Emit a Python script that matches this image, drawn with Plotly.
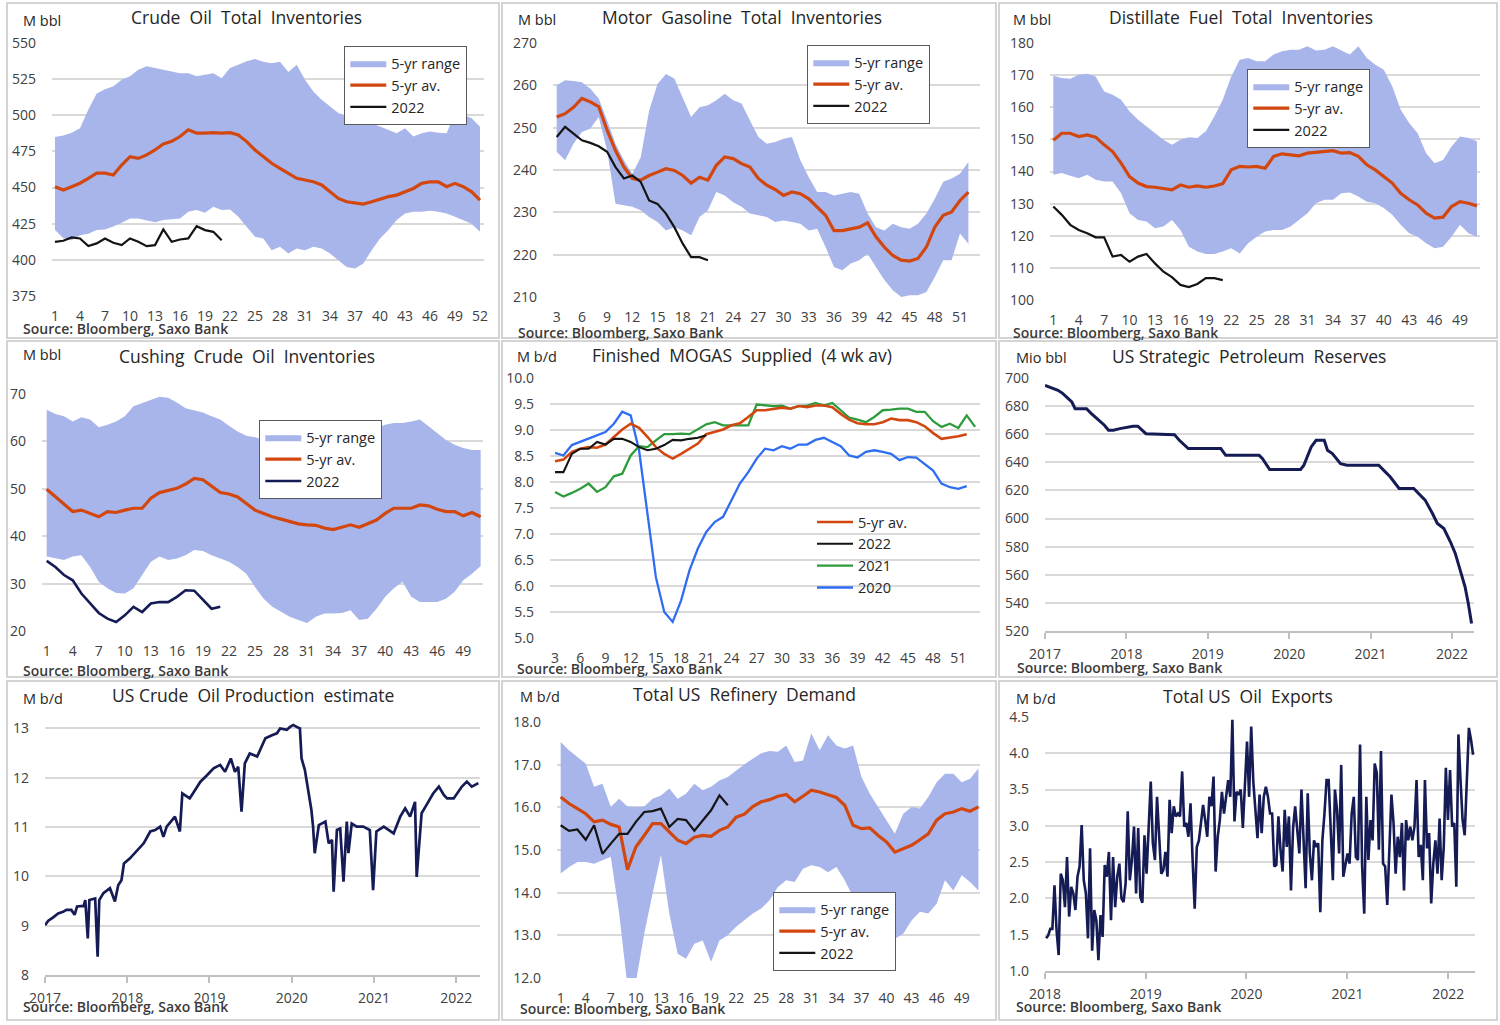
import plotly.graph_objects as go
import pandas as pd

W, H = 1500, 1025

# ---------------- DATA ----------------
# Crude oil total inventories (M bbl), weeks 1-52
crude_weeks = list(range(1, 53))
crude_hi = [485, 486, 488, 491, 503.8, 515, 518, 520, 524.6, 527, 531.5, 534, 532.7, 531.5, 530.4, 529, 529, 527, 528, 529,
            525.7, 532.7, 535, 537.3, 539, 537, 536, 537, 530, 535, 524.6, 516.5, 510.7, 506, 501.5, 499, 496.8, 495.7, 494.5, 492.2,
            490, 487.6, 491, 485.3, 487.6, 488.7, 488, 487.6, 501.5, 500.3, 498, 492]
crude_lo = [420.6, 415, 413.6, 417, 418, 420.6, 421, 423, 425.6, 428.6, 428.6, 427.5, 426, 427.5, 428, 428.6, 433.3, 434.4, 432.6, 436.7,
            434.4, 434.9, 429.8, 423, 416, 414.8, 406.7, 409, 404.4, 407.8, 406.7, 409, 407.8, 404.4, 399.7, 395.1, 394, 397.4, 406.7, 414.8,
            420.6, 427.5, 432, 433.3, 433.3, 434, 433.3, 432, 429.8, 427.5, 425, 419.4]
crude_avg = [450.6, 448.3, 450.6, 453, 456.4, 460, 460, 458.7, 465.6, 471.4, 470.2, 472.6, 476, 480.2, 482, 485.3, 490, 487.6, 487.6, 488,
             487.6, 488, 486.4, 481.8, 476, 471.4, 466.8, 463.3, 459.8, 456.4, 455.2, 454, 451.8, 447.1, 442.5, 440.2, 439.5, 438.6, 440.2, 442,
             443.7, 444.8, 447.1, 449.4, 452.9, 454, 454, 450.6, 452.9, 450.6, 447.1, 441.3]
crude_2022 = [412.5, 413.2, 415.5, 414.8, 409.5, 411.4, 414.8, 411.8, 410.2, 414.8, 412.5, 409.5, 410.2, 421, 412.5, 414.1, 414.8,
              423.3, 420.6, 419.4, 413.6]

# Motor gasoline total inventories (M bbl), weeks 3-52
gas_weeks = list(range(3, 53))
gas_hi = [260, 261.2, 261, 260.7, 259.2, 256.9, 251.7, 246.2, 242.3, 239.1, 243, 254, 260.3, 262.7, 261.6, 257.2, 252.5, 254.8, 255.3, 256.5,
          258, 256.5, 255.7, 251.7, 247.8, 246.2, 246.6, 247.4, 247.8, 242.3, 238.3, 234.8, 234.8, 234, 234.4, 234.8, 234.4, 229.7, 226.5, 225.7,
          227.3, 226.5, 226.1, 227.3, 229.7, 233.2, 237.2, 238, 239.1, 241.9]
gas_lo = [244.3, 242.3, 246.2, 249, 249.8, 252.5, 244.6, 232, 231.7, 231.3, 230.5, 228.9, 227.7, 225.7, 226.5, 225.7, 224.6, 228.9, 230.5, 234.8,
          234, 232.4, 231.3, 229.7, 229.3, 228.9, 227.7, 228.1, 227.7, 227.3, 225.7, 226.1, 221.8, 217.1, 216.3, 217.9, 218.7, 220.2, 217.1, 214,
          211.6, 210, 210.4, 210.4, 211.2, 214.7, 218.7, 218.7, 225, 222.6]
gas_avg = [252.5, 253.3, 254.8, 256.9, 256.1, 255, 249.4, 244.6, 240.7, 238, 237.6, 238.7, 239.5, 240.3, 239.9, 238.7, 236.9, 238.3, 237.6, 241.1,
           243.1, 242.7, 241.5, 240.7, 238, 236.4, 235.4, 234, 234.8, 234.4, 233.2, 231.3, 229.3, 225.7, 225.7, 226.1, 226.5, 227.5, 224.2, 221.8,
           219.8, 218.7, 218.5, 219.1, 221.8, 226.5, 229.3, 230.1, 232.8, 234.8]
gas_weeks_2022 = list(range(3, 22))
gas_2022 = [247.8, 250.2, 248.6, 247, 246.4, 245.6, 244.3, 240.7, 238, 238.7, 237.2, 232.8, 232, 229.7, 226.5, 222.6, 219.4, 219.4, 218.7]

# Distillate fuel total inventories (M bbl), weeks 1-51
dist_weeks = list(range(1, 52))
dist_hi = [169.8, 169.1, 168.9, 170.1, 170.4, 169.6, 164.9, 163.9, 162.3, 158.7, 156.1, 154, 151.9, 149.9, 148.3, 149.9, 150.7, 150.4, 152.5, 157.1,
           162.3, 169.6, 174.8, 175.3, 174.3, 174.3, 176.4, 177.4, 177.9, 177.9, 179, 177.7, 177.9, 179, 177.7, 176.4, 179, 175.3, 173.2, 171.7,
           166.5, 159.2, 155.1, 151.9, 145.7, 142.6, 143.6, 147.8, 150.9, 150.4, 149.4]
dist_lo = [139, 139.5, 138.7, 137.9, 139, 137.4, 136.9, 136.9, 133.2, 127, 124.9, 124.4, 122.3, 122.9, 124.9, 121.8, 116.6, 115.1, 114.3, 114.3,
           115.1, 116.1, 114.5, 117.7, 119.7, 121.3, 121.8, 121.8, 122.9, 124.9, 127, 130.1, 131.2, 131.2, 133.2, 133.5, 132.2, 130.6, 130.1, 128.6,
           126.5, 123.4, 120.8, 119.7, 117.7, 116.1, 116.6, 119.7, 123.4, 120.8, 119.7]
dist_avg = [149.7, 151.9, 151.9, 150.9, 151.4, 150.7, 148.3, 146.2, 142.6, 138.4, 136.4, 135.3, 135.1, 134.8, 134.3, 135.8, 135.1, 135.5, 135.1, 135.5,
            136.2, 140.5, 141.6, 141.4, 141.6, 141, 144.7, 145.5, 145.2, 144.9, 145.7, 145.9, 146.2, 146.5, 145.7, 145.9, 144.7, 142.1, 140.5, 138.4,
            136.4, 133.2, 131.2, 129.6, 127, 125.5, 125.8, 129.1, 130.6, 130.1, 129.3]
dist_2022 = [129.1, 126.5, 123.4, 121.8, 120.8, 119.5, 119.5, 113.5, 114, 111.9, 113.5, 114.3, 111.4, 108.8, 107.1, 104.7, 104, 105, 106.8,
             106.8, 106.2]

# Cushing crude oil inventories (M bbl), weeks 1-51
cush_weeks = list(range(1, 52))
cush_hi = [66.7, 65.8, 65.3, 64.2, 65.1, 64.6, 63, 63.5, 64.2, 65.3, 67.4, 68.1, 68.8, 69.4, 69.2, 68.2, 67, 66.5, 66.1, 65.3,
           64.6, 63.3, 62.1, 61.2, 60.9, 60.3, 59.6, 59.3, 58.9, 58.6, 58.6, 58.9, 59.1, 59.3, 60, 60.7, 61.4, 62.1, 62.8, 63.5,
           63.9, 63.9, 64.2, 64.6, 63.2, 61.7, 60.3, 59.3, 58.6, 58.2, 58.2]
cush_lo = [35.7, 35.3, 35, 35.7, 36, 33.5, 30.4, 29, 28, 27.9, 29, 31.8, 34.6, 35.7, 35, 35.3, 36, 37.1, 36.9, 36,
           35.3, 34.6, 33.5, 32.1, 29.3, 26.8, 25.1, 24, 23, 22.3, 21.7, 23, 23.7, 23.7, 23.8, 24.4, 22.3, 22.6, 24.7, 27.2,
           29, 30.4, 27.2, 26.1, 26.1, 26.1, 26.8, 28.3, 30.7, 32.1, 33.7]
cush_avg = [49.9, 48.3, 46.6, 45.2, 45.5, 44.8, 44.1, 45.2, 45, 45.5, 45.9, 45.9, 48, 49.2, 49.6, 50.1, 51, 52.2, 51.9, 50.5,
            49.2, 48.9, 48.3, 46.9, 45.5, 44.8, 44.1, 43.6, 43.1, 42.6, 42.4, 42.3, 41.7, 41.4, 41.9, 42.4, 41.9, 42.6, 43.4, 44.8,
            45.9, 45.9, 45.9, 46.6, 46.4, 45.7, 45.2, 45.2, 44.3, 45, 44.1]
cush_2022 = [34.8, 33.5, 31.8, 30.7, 27.9, 25.8, 23.8, 22.6, 21.9, 23.3, 25.1, 24, 25.8, 26.1, 26.1, 27.2, 28.6, 28.5, 26.5, 24.7, 25.1]

# Finished MOGAS supplied, 4 wk av (M b/d)
mog_weeks = list(range(3, 53))
mog_avg = [8.40, 8.43, 8.58, 8.64, 8.67, 8.66, 8.72, 8.87, 9.01, 9.12, 9.04, 8.87, 8.67, 8.54, 8.45, 8.54, 8.64, 8.74, 8.92, 8.96,
           9.01, 9.09, 9.13, 9.25, 9.38, 9.38, 9.41, 9.43, 9.41, 9.46, 9.44, 9.47, 9.47, 9.44, 9.31, 9.20, 9.13, 9.11, 9.11, 9.15,
           9.22, 9.19, 9.19, 9.15, 9.07, 8.94, 8.83, 8.85, 8.88, 8.92]
mog_weeks_2022 = list(range(3, 22))
mog_2022 = [8.19, 8.19, 8.54, 8.64, 8.64, 8.77, 8.72, 8.83, 8.83, 8.77, 8.67, 8.61, 8.64, 8.71, 8.81, 8.80, 8.83, 8.85, 8.90]
mog_weeks_2021 = list(range(3, 54))
mog_2021 = [7.81, 7.72, 7.79, 7.87, 7.97, 7.81, 7.90, 8.11, 8.16, 8.51, 8.69, 8.67, 8.80, 8.92, 8.92, 8.93, 8.92, 9.01, 9.11, 9.15,
            9.09, 9.09, 9.09, 9.09, 9.49, 9.47, 9.46, 9.47, 9.41, 9.46, 9.47, 9.52, 9.47, 9.52, 9.38, 9.24, 9.20, 9.15, 9.25, 9.38,
            9.39, 9.41, 9.41, 9.35, 9.35, 9.17, 9.06, 9.12, 9.04, 9.28, 9.06]
mog_2020 = [8.56, 8.51, 8.71, 8.77, 8.83, 8.90, 8.96, 9.12, 9.35, 9.28, 8.61, 7.39, 6.17, 5.50, 5.31, 5.72, 6.30, 6.72, 7.04, 7.23,
            7.33, 7.65, 7.97, 8.19, 8.45, 8.64, 8.61, 8.69, 8.64, 8.72, 8.72, 8.81, 8.85, 8.77, 8.69, 8.51, 8.47, 8.58, 8.61, 8.58,
            8.54, 8.42, 8.48, 8.47, 8.35, 8.22, 7.97, 7.90, 7.87, 7.92]

# US Strategic Petroleum Reserves (Mio bbl), x in decimal years
spr_t = [2017.00, 2017.10, 2017.16, 2017.22, 2017.29, 2017.33, 2017.37, 2017.51, 2017.57, 2017.67, 2017.73, 2017.78, 2017.84, 2017.92,
         2018.08, 2018.14, 2018.24, 2018.59, 2018.65, 2018.76, 2019.16, 2019.22, 2019.63, 2019.67, 2019.76, 2020.14, 2020.18, 2020.27,
         2020.33, 2020.43, 2020.47, 2020.53, 2020.63, 2020.71, 2021.10, 2021.18, 2021.24, 2021.35, 2021.53, 2021.61, 2021.67, 2021.76,
         2021.82, 2021.90, 2021.98, 2022.04, 2022.10, 2022.16, 2022.20, 2022.24]
spr_v = [694.8, 692.4, 691.2, 688.9, 685.3, 682.9, 678.2, 678.2, 674.7, 669.9, 666.4, 662.8, 662.8, 664.0, 665.7, 665.7, 660.4, 659.7,
         655.7, 649.8, 649.8, 645.0, 645.0, 642.7, 634.9, 634.9, 637.9, 651.0, 655.7, 655.7, 648.6, 646.2, 639.1, 637.9, 637.9, 633.2,
         629.7, 621.4, 621.4, 616.6, 613.1, 603.6, 596.5, 592.9, 583.5, 575.2, 563.3, 551.5, 539.6, 525.4]

# US crude oil production estimate (M b/d), x in decimal years
prod_t = [2017.00, 2017.04, 2017.10, 2017.16, 2017.22, 2017.26, 2017.32, 2017.36, 2017.39, 2017.47,
          2017.49, 2017.52, 2017.54, 2017.61, 2017.64, 2017.66, 2017.71, 2017.79, 2017.85, 2017.89,
          2017.93, 2017.96, 2018.03, 2018.12, 2018.20, 2018.28, 2018.34, 2018.40, 2018.44, 2018.48,
          2018.58, 2018.64, 2018.67, 2018.76, 2018.82, 2018.89, 2018.97, 2019.05, 2019.13, 2019.19,
          2019.26, 2019.31, 2019.35, 2019.39, 2019.43, 2019.49, 2019.58, 2019.62, 2019.68, 2019.76,
          2019.82, 2019.86, 2019.94, 2019.98, 2020.02, 2020.06, 2020.10, 2020.12, 2020.16, 2020.20,
          2020.24, 2020.26, 2020.28, 2020.33, 2020.41, 2020.45, 2020.49, 2020.51, 2020.55, 2020.59,
          2020.63, 2020.67, 2020.69, 2020.73, 2020.79, 2020.87, 2020.95, 2020.99, 2021.03, 2021.12,
          2021.18, 2021.24, 2021.32, 2021.38, 2021.44, 2021.50, 2021.52, 2021.58, 2021.64, 2021.72,
          2021.79, 2021.85, 2021.89, 2021.97, 2022.07, 2022.13, 2022.19, 2022.27]
prod_v = [9.01, 9.10, 9.17, 9.25, 9.28, 9.32, 9.32, 9.22, 9.39, 9.40,
          9.52, 8.74, 9.52, 9.55, 8.37, 9.52, 9.66, 9.76, 9.49, 9.82,
          9.92, 10.26, 10.36, 10.53, 10.67, 10.91, 10.94, 11.01, 10.80, 11.01,
          11.21, 10.91, 11.68, 11.58, 11.75, 11.92, 12.05, 12.19, 12.26, 12.12,
          12.39, 12.12, 12.22, 11.31, 12.29, 12.49, 12.43, 12.59, 12.80, 12.86,
          12.90, 13.00, 12.97, 13.03, 13.07, 13.03, 13.00, 12.39, 12.16, 11.75,
          11.34, 11.01, 10.47, 11.04, 11.11, 10.67, 10.74, 9.69, 10.94, 10.97,
          9.89, 11.11, 10.47, 11.07, 11.01, 11.01, 10.94, 9.72, 10.91, 11.01,
          10.94, 10.87, 11.21, 11.38, 11.21, 11.51, 9.99, 11.28, 11.45, 11.68,
          11.82, 11.65, 11.58, 11.58, 11.82, 11.92, 11.82, 11.89]

# Total US refinery demand (M b/d), weeks 1-51
ref_weeks = list(range(1, 52))
ref_hi = [17.53, 17.34, 17.18, 17.02, 16.48, 16.55, 16.01, 16.20, 16.02, 16.01, 16.02, 16.20, 16.28, 16.44, 16.20, 16.32, 16.55, 16.40, 16.48, 16.63,
          16.71, 16.87, 17.01, 17.14, 17.27, 17.32, 17.30, 17.45, 17.06, 17.10, 17.73, 17.34, 17.69, 17.45, 17.38, 17.45, 16.71, 16.32, 16.01, 15.70,
          15.38, 15.85, 16.01, 15.97, 16.24, 16.59, 16.79, 16.79, 16.59, 16.67, 16.91]
ref_lo = [14.45, 14.60, 14.72, 14.72, 14.68, 14.76, 14.84, 13.51, 11.8, 11.9, 13.04, 13.98, 14.88, 13.51, 12.57, 12.45, 12.80, 12.88, 12.38, 12.88,
          13.00, 13.20, 13.35, 13.51, 13.63, 13.82, 14.13, 14.29, 14.25, 14.56, 14.64, 14.60, 14.48, 14.60, 14.29, 13.90, 13.51, 13.20, 13.04, 12.96,
          12.92, 13.04, 13.35, 13.55, 13.51, 13.74, 14.29, 14.05, 14.41, 14.25, 14.05]
ref_avg = [16.24, 16.09, 15.97, 15.85, 15.66, 15.70, 15.60, 15.54, 14.54, 15.07, 15.34, 15.62, 15.62, 15.42, 15.23, 15.15, 15.30, 15.34, 15.32, 15.46,
           15.54, 15.77, 15.84, 16.02, 16.13, 16.18, 16.26, 16.30, 16.13, 16.26, 16.40, 16.36, 16.30, 16.23, 16.05, 15.58, 15.50, 15.52, 15.34, 15.19,
           14.95, 15.03, 15.11, 15.24, 15.38, 15.70, 15.85, 15.89, 15.97, 15.91, 16.01]
ref_2022 = [15.58, 15.45, 15.48, 15.24, 15.58, 14.91, 15.15, 15.38, 15.38, 15.66, 15.89, 15.91, 15.97, 15.54, 15.73, 15.70, 15.45, 15.70,
            15.93, 16.28, 16.05]

# Total US oil exports (M b/d), weekly from Jan 2018 to end of Mar 2022
exp_vals = [1.45, 1.49, 1.58, 1.58, 2.18, 1.56, 1.22, 2.34, 2.25, 1.88, 2.57, 1.75, 2.16, 2.07, 1.84, 2.30, 2.44, 3.01, 2.25, 2.07,
            1.45, 2.69, 1.28, 1.84, 1.70, 1.15, 1.77, 1.47, 2.46, 2.30, 2.64, 1.70, 2.57, 1.88, 2.30, 2.48, 2.00, 1.95, 2.21, 3.20,
            2.25, 2.53, 2.99, 2.07, 2.97, 2.02, 1.94, 2.87, 2.34, 2.90, 3.61, 2.76, 2.53, 3.40, 2.90, 2.34, 2.39, 2.64, 2.30, 3.36,
            2.90, 3.27, 3.13, 3.17, 3.13, 3.75, 2.99, 3.04, 2.85, 3.31, 2.53, 1.86, 2.71, 2.80, 3.04, 3.29, 3.08, 2.85, 3.40, 3.27,
            3.68, 2.37, 2.85, 3.08, 3.47, 3.17, 3.40, 3.63, 3.40, 4.46, 3.06, 3.47, 3.43, 3.50, 2.97, 3.59, 4.16, 3.40, 4.37, 3.61,
            3.22, 2.83, 3.43, 2.90, 3.40, 3.54, 3.40, 3.17, 3.17, 2.44, 2.46, 3.13, 2.67, 2.37, 3.22, 2.71, 3.13, 2.11, 2.97, 3.27,
            2.94, 2.62, 3.50, 2.80, 2.14, 3.45, 2.62, 2.25, 2.80, 2.71, 2.76, 1.81, 2.80, 3.17, 3.63, 3.63, 2.94, 2.25, 3.50, 3.22,
            2.62, 3.84, 2.30, 2.44, 2.62, 2.48, 3.17, 3.40, 2.57, 2.53, 4.12, 2.44, 1.79, 3.40, 2.53, 3.08, 2.80, 3.86, 3.73, 2.67,
            4.03, 2.48, 2.44, 1.91, 2.62, 3.43, 3.04, 2.34, 2.85, 2.57, 3.04, 2.11, 3.08, 2.80, 2.99, 2.80, 2.99, 3.63, 2.57, 2.74,
            2.25, 3.63, 2.69, 2.90, 1.93, 2.48, 2.80, 2.34, 3.10, 2.25, 2.71, 3.80, 3.08, 3.77, 2.99, 3.04, 2.16, 4.26, 3.63, 3.08,
            2.87, 3.50, 4.35, 4.19, 3.98]
exp_dates = pd.date_range("2018-01-05", "2022-04-01", periods=len(exp_vals))

years_17 = [2017, 2018, 2019, 2020, 2021, 2022]
years_18 = ["2018-01-01", "2019-01-01", "2020-01-01", "2021-01-01", "2022-01-01"]
years_18_text = ["2018", "2019", "2020", "2021", "2022"]

# ---------------- STYLE ----------------
FONT = "Open Sans"
FILL = "#a8b5ea"
ORANGE = "#d2470f"
BLACK = "#141414"
NAVY = "#151b55"
GREEN = "#2e9c3c"
BLUE = "#2f6df2"
GRID = "#d9d9d9"
TICK = dict(family=FONT, size=14, color="#404040")


def xdom(x0, x1):
    return [x0 / W, x1 / W]


def ydom(y0, y1):
    return [1 - y1 / H, 1 - y0 / H]


fig = go.Figure()
fig.update_layout(template="none")


def ax(i):
    return ("x", "y") if i == 1 else (f"x{i}", f"y{i}")


def set_axes(i, box, xr, yr, ydt, xtv, xtt=None, yfmt=None, timeaxis=False, xtype="linear"):
    xn = "xaxis" if i == 1 else f"xaxis{i}"
    yn = "yaxis" if i == 1 else f"yaxis{i}"
    xa = dict(domain=xdom(box[0], box[2]), range=xr, anchor=ax(i)[1], showgrid=False, zeroline=False,
              tickfont=TICK, tickmode="array", tickvals=xtv, type=xtype, fixedrange=True, automargin=False)
    if xtt is not None:
        xa["ticktext"] = xtt
    if timeaxis:
        xa.update(showline=True, linecolor="#bfbfbf", linewidth=1.5, ticks="outside", ticklen=6,
                  tickcolor="#bfbfbf", tickwidth=1.5, ticklabelstandoff=3)
    else:
        xa.update(ticks="", ticklabelstandoff=10, showline=False)
    ya = dict(domain=ydom(box[1], box[3]), range=yr, anchor=ax(i)[0], showgrid=True, gridcolor=GRID,
              gridwidth=1.5, zeroline=False, tickfont=TICK, dtick=ydt, tick0=yr[0], ticks="",
              ticklabelstandoff=15, fixedrange=True, showline=False, automargin=False)
    if yfmt:
        ya["tickformat"] = yfmt
    fig.layout[xn] = xa
    fig.layout[yn] = ya


def range_traces(i, x, lo, hi, lg):
    xa, ya = ax(i)
    fig.add_trace(go.Scatter(x=x, y=lo, mode="lines", line=dict(width=0, color=FILL), showlegend=False,
                             hoverinfo="skip", xaxis=xa, yaxis=ya, legend=lg, legendrank=1))
    fig.add_trace(go.Scatter(x=x, y=hi, mode="lines", line=dict(width=0, color=FILL), fill="tonexty",
                             fillcolor=FILL, name="5-yr range", xaxis=xa, yaxis=ya, legend=lg, legendrank=1))


def line(i, x, y, name, color, width, lg, show=True, rank=1000):
    xa, ya = ax(i)
    fig.add_trace(go.Scatter(x=x, y=y, mode="lines", name=name, line=dict(color=color, width=width),
                             xaxis=xa, yaxis=ya, legend=lg, showlegend=show, legendrank=rank))


# Panel 1: crude
set_axes(1, (52, 43, 484, 296), [0.64, 52.48], [375, 550], 25, list(range(1, 53, 3)))
range_traces(1, crude_weeks, crude_lo, crude_hi, "legend")
line(1, crude_weeks, crude_avg, "5-yr av.", ORANGE, 3.2, "legend", rank=2)
line(1, crude_weeks[:len(crude_2022)], crude_2022, "2022", BLACK, 2.2, "legend", rank=3)

# Panel 2: gasoline
set_axes(2, (553, 43, 980, 297), [2.56, 53.38], [210, 270], 10, list(range(3, 52, 3)))
range_traces(2, gas_weeks, gas_lo, gas_hi, "legend2")
line(2, gas_weeks, gas_avg, "5-yr av.", ORANGE, 3.2, "legend2", rank=2)
line(2, gas_weeks_2022, gas_2022, "2022", BLACK, 2.2, "legend2", rank=3)

# Panel 3: distillate
set_axes(3, (1050, 43, 1480, 300), [0.61, 51.36], [100, 180], 10, list(range(1, 50, 3)))
range_traces(3, dist_weeks, dist_lo, dist_hi, "legend3")
line(3, dist_weeks, dist_avg, "5-yr av.", ORANGE, 3.2, "legend3", rank=2)
line(3, dist_weeks[:len(dist_2022)], dist_2022, "2022", BLACK, 2.2, "legend3", rank=3)

# Panel 4: Cushing
set_axes(4, (42, 394, 483, 631), [0.46, 51.27], [20, 70], 10, list(range(1, 50, 3)))
range_traces(4, cush_weeks, cush_lo, cush_hi, "legend4")
line(4, cush_weeks, cush_avg, "5-yr av.", ORANGE, 3.2, "legend4", rank=2)
line(4, cush_weeks[:len(cush_2022)], cush_2022, "2022", NAVY, 2.6, "legend4", rank=3)

# Panel 5: MOGAS
set_axes(5, (550, 378, 980, 638), [2.4, 53.58], [5, 10], 0.5, list(range(3, 52, 3)), yfmt=".1f")
line(5, mog_weeks, mog_2020, "2020", BLUE, 2.3, "legend5", rank=4)
line(5, mog_weeks_2021, mog_2021, "2021", GREEN, 2.3, "legend5", rank=3)
line(5, mog_weeks, mog_avg, "5-yr av.", ORANGE, 2.6, "legend5", rank=1)
line(5, mog_weeks_2022, mog_2022, "2022", BLACK, 2.1, "legend5", rank=2)

# Panel 6: SPR
set_axes(6, (1045, 378, 1474, 631), [2017, 2022.27], [520, 700], 20, years_17, [str(y) for y in years_17], timeaxis=True)
line(6, spr_t, spr_v, "SPR", NAVY, 3, "legend", show=False)

# Panel 7: production
set_axes(7, (45, 721, 480, 975), [2017, 2022.29], [8, 13.15], 1, years_17, [str(y) for y in years_17], timeaxis=True)
line(7, prod_t, prod_v, "Production", NAVY, 2.7, "legend", show=False)

# Panel 8: refinery
set_axes(8, (557, 722, 980, 978), [0.56, 51.19], [12, 18], 1, list(range(1, 50, 3)), yfmt=".1f")
range_traces(8, ref_weeks, ref_lo, ref_hi, "legend6")
line(8, ref_weeks, ref_avg, "5-yr av.", ORANGE, 3.2, "legend6", rank=2)
line(8, ref_weeks[:len(ref_2022)], ref_2022, "2022", BLACK, 2.2, "legend6", rank=3)

# Panel 9: exports
set_axes(9, (1045, 717, 1475, 971), ["2018-01-01", "2022-04-08"], [1, 4.5], 0.5, years_18, years_18_text,
         yfmt=".1f", timeaxis=True, xtype="date")
line(9, exp_dates, exp_vals, "Exports", NAVY, 2.6, "legend", show=False)

# ---------------- LEGENDS ----------------
LEGFONT = dict(family=FONT, size=14.5, color="#262626")


def leg(x, y, border=True):
    d = dict(x=x / W, y=1 - y / H, xanchor="left", yanchor="top", font=LEGFONT, bgcolor="white",
             tracegroupgap=0, itemwidth=36, traceorder="normal")
    if border:
        d.update(bordercolor="#5a5a5a", borderwidth=1.3)
    else:
        d.update(bgcolor="rgba(255,255,255,0)", borderwidth=0)
    return d


fig.update_layout(
    legend=leg(344, 46),
    legend2=leg(807, 45),
    legend3=leg(1247, 69),
    legend4=leg(259, 420),
    legend5=leg(812, 506, border=False),
    legend6=leg(773, 892),
)

# ---------------- ANNOTATIONS ----------------
ann = []


def text(x, y, s, size, color="#262626", anchor="left", weight="normal"):
    ann.append(dict(x=x / W, y=1 - y / H, xref="paper", yref="paper", text=s, showarrow=False,
                    xanchor=anchor, yanchor="middle", font=dict(family=FONT, size=size, color=color, weight=weight)))


titles = [
    (246, 17, "Crude  Oil  Total  Inventories"),
    (742, 17, "Motor  Gasoline  Total  Inventories"),
    (1241, 17, "Distillate  Fuel  Total  Inventories"),
    (247, 356, "Cushing  Crude  Oil  Inventories"),
    (742, 355, "Finished  MOGAS  Supplied  (4 wk av)"),
    (1249, 356, "US Strategic  Petroleum  Reserves"),
    (253, 695, "US Crude  Oil Production  estimate"),
    (744, 694, "Total US  Refinery  Demand"),
    (1248, 696, "Total US  Oil  Exports"),
]
for x, y, s in titles:
    text(x, y, s.replace("  ", " \u00a0"), 17.5, anchor="center")

units = [(21, 20, "M bbl"), (516, 19, "M bbl"), (1011, 19, "M bbl"), (21, 354, "M bbl"), (515, 356, "M b/d"),
         (1014, 357, "Mio bbl"), (21, 698, "M b/d"), (518, 696, "M b/d"), (1014, 698, "M b/d")]
for x, y, s in units:
    text(x, y, s, 14.5)

sources = [(21, 328), (516, 332), (1011, 332), (21, 670), (515, 668), (1015, 667), (21, 1006), (518, 1008), (1014, 1006)]
for x, y in sources:
    text(x, y, "Source: Bloomberg, Saxo Bank", 14, color="#3a3a3a", weight=600)

# ---------------- PANEL BORDERS ----------------
shapes = []
cols = [(7, 499), (502, 996), (999, 1497)]
rows = [(3, 338), (341, 677), (681, 1020)]
for (r0, r1) in rows:
    for (c0, c1) in cols:
        shapes.append(dict(type="rect", xref="paper", yref="paper", x0=c0 / W, x1=c1 / W, y0=1 - r1 / H, y1=1 - r0 / H,
                           line=dict(color="#c6c6c6", width=1.5), fillcolor="rgba(0,0,0,0)", layer="below"))

fig.update_layout(
    width=W, height=H, autosize=False,
    margin=dict(l=0, r=0, t=0, b=0, pad=0, autoexpand=False),
    paper_bgcolor="white", plot_bgcolor="white",
    font=dict(family=FONT, size=14, color="#404040"),
    annotations=ann, shapes=shapes,
    hovermode=False,
)

fig.write_html(
    "out.html",
    config={"displayModeBar": False},
    post_script="document.documentElement.style.margin='0';document.body.style.margin='0';"
                "document.body.style.padding='0';document.body.style.overflow='hidden';"
                "document.documentElement.style.overflow='hidden';",
)
